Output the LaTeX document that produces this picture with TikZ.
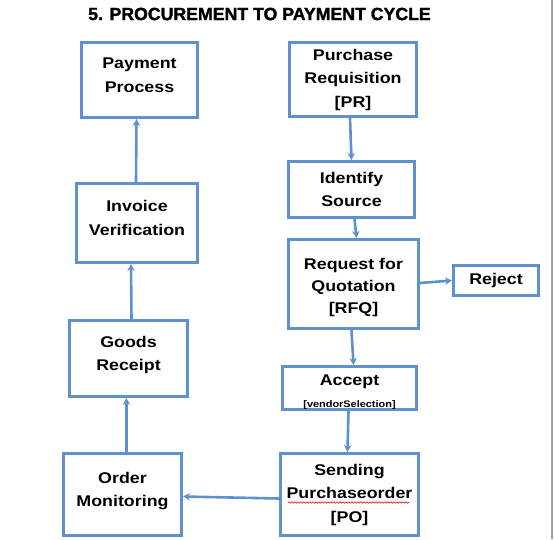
\documentclass[tikz,border=0pt]{standalone}
\usepackage{fontspec}
\setmainfont{Liberation Sans}[FakeStretch=1.15]
\newfontfamily\titlefont{Liberation Sans Bold}[FakeBold=1.6]
\usetikzlibrary{arrows.meta,decorations.pathmorphing}
\definecolor{boxblue}{RGB}{95,146,204}
\definecolor{edgegray}{RGB}{160,160,160}
\tikzset{
  stage/.style={draw=boxblue, line width=3pt, rectangle, inner sep=0pt, align=center,
    font=\fontsize{15.5}{23.5}\selectfont\bfseries},
  lift/.style={text depth=10pt},
  flow/.style={draw=boxblue, line width=2.6pt, -{Stealth[length=7pt,width=7.5pt]}},
}
\begin{document}
\begin{tikzpicture}[x=1pt,y=-1pt]
  \useasboundingbox (0,0) rectangle (554,539);
  \draw[edgegray, line width=2pt] (552,0) -- (552,539);

  \node[font=\titlefont\fontsize{17.7}{20}\selectfont] (title) at (259.5,14) {5. PROCUREMENT TO PAYMENT CYCLE};

  % right column
  \node[stage, minimum width=127, minimum height=74] (req) at (353,79.5) {Purchase\\Requisition\\{[}PR{]}};
  \node[stage, minimum width=126, minimum height=56] (src) at (351.5,189.5) {Identify\\Source};
  \node[stage, minimum width=130, minimum height=89] (rfq) at (353.5,284)
    {\rule{0pt}{18pt}Request for\\[-1.5pt]Quotation\\[-1.5pt]{[}RFQ{]}};
  \node[stage, minimum width=85, minimum height=30] (rej) at (496,280.5) {Reject};
  \node[stage, minimum width=134, minimum height=43] (acc) at (349.5,388)
    {\rule{0pt}{19pt}Accept\\[-2pt]{\fontsize{9.5}{10}\selectfont [vendorSelection]}};
  \node[stage, minimum width=138, minimum height=82] (po) at (349.5,494.5) {Sending\\Purchaseorder\\{[}PO{]}};

  % left column
  \node[stage, lift, minimum width=118, minimum height=82] (mon) at (122.5,494.5) {Order\\Monitoring};
  \node[stage, lift, minimum width=118, minimum height=76] (grc) at (128.5,358.5) {Goods\\Receipt};
  \node[stage, lift, minimum width=121, minimum height=79] (inv) at (137,223) {Invoice\\Verification};
  \node[stage, lift, minimum width=116, minimum height=75] (pay) at (139.5,80) {Payment\\Process};

  % spell-check squiggle
  \draw[red, line width=0.6pt, decorate, decoration={snake, amplitude=0.7pt, segment length=3pt}]
    (288,502.5) -- (409,502.5);

  \draw[flow] ([xshift=-3pt]req.south) -- (src.north);
  \draw[flow] ([xshift=3pt]src.south) -- ([xshift=3pt]rfq.north);
  \draw[flow] ([xshift=-2pt]rfq.south) -- ([xshift=4pt]acc.north);
  \draw[flow] ([yshift=1pt]rfq.east) -- (rej.west);
  \draw[flow] ([xshift=-1pt]acc.south) -- ([xshift=-2pt]po.north);
  \draw[flow] ([yshift=-4pt]po.west) -- ([yshift=-2pt]mon.east);
  \draw[flow] ([xshift=4pt]mon.north) -- ([xshift=-2pt]grc.south);
  \draw[flow] ([xshift=3pt]grc.north) -- ([xshift=-6pt]inv.south);
  \draw[flow] ([xshift=-1pt]inv.north) -- ([xshift=-3pt]pay.south);
\end{tikzpicture}
\end{document}
